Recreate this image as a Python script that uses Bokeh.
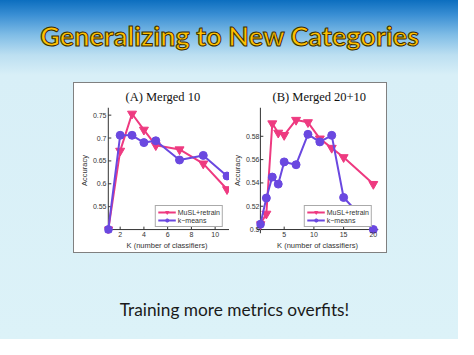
from bokeh.plotting import figure
from bokeh.layouts import column, row
from bokeh.models import Spacer, Range1d, FixedTicker, Legend, LegendItem, Span
from bokeh.core.properties import value
from bokeh.embed import file_html
from bokeh.resources import INLINE

# ---------------- data ----------------
slide_title = "Generalizing to New Categories"
caption = "Training more metrics overfits!"

title_A = "(A) Merged 10"
k_A = [1, 2, 3, 4, 5, 7, 9, 11]
musl_A = [0.500, 0.672, 0.753, 0.718, 0.684, 0.675, 0.644, 0.588]
kmeans_A = [0.500, 0.706, 0.706, 0.690, 0.694, 0.652, 0.662, 0.617]
xticks_A = [2, 4, 6, 8, 10]
yticks_A = [0.55, 0.6, 0.65, 0.7, 0.75]
ylabels_A = ["0.55", "0.6", "0.65", "0.7", "0.75"]

title_B = "(B) Merged 20+10"
k_B = [1, 2, 3, 4, 5, 7, 9, 11, 13, 15, 20]
musl_B = [0.5045, 0.5135, 0.591, 0.583, 0.581, 0.594, 0.592, 0.578, 0.570, 0.562, 0.539]
kmeans_B = [0.5045, 0.527, 0.545, 0.539, 0.558, 0.5556, 0.5817, 0.5752, 0.5808, 0.5275, 0.500]
xticks_B = [5, 10, 15, 20]
yticks_B = [0.5, 0.52, 0.54, 0.56, 0.58]
ylabels_B = ["0.5", "0.52", "0.54", "0.56", "0.58"]

series_names = ["MuSL+retrain", "k\u2212means"]
x_label = "K (number of classifiers)"
y_label = "Accuracy"

PINK = "#EE3A80"
PURPLE = "#6A48E0"
AX = "#333333"
PANEL_H = 169
TOP_B, BOT_B = 24, 16
TICK_PX = 3


def make_plot(title, k, musl, kmeans, xr, yr, x0, y0, xt, yt, ylabels, width, left, right,
              title_offset, ylab_standoff):
    p = figure(width=width, height=PANEL_H, x_range=Range1d(*xr), y_range=Range1d(*yr),
               toolbar_location=None, output_backend="svg",
               min_border_left=left, min_border_right=right,
               min_border_top=TOP_B, min_border_bottom=BOT_B)
    p.title.text = title
    p.title.align = "left"
    p.title.offset = title_offset
    p.title.text_font = "Liberation Serif"
    p.title.text_font_style = "normal"
    p.title.text_font_size = "12.5px"
    p.title.text_color = "#111111"
    p.title.standoff = 7
    p.outline_line_color = None
    p.grid.visible = False
    p.background_fill_color = "white"
    p.border_fill_color = "white"
    for ax in (p.xaxis[0], p.yaxis[0]):
        ax.axis_line_color = None
        ax.major_tick_line_color = None
        ax.minor_tick_line_color = None
        ax.major_tick_in = 0
        ax.major_tick_out = 0
        ax.minor_tick_in = 0
        ax.minor_tick_out = 0
        ax.major_label_text_font = "Liberation Sans"
        ax.major_label_text_font_size = "7px"
        ax.major_label_text_color = AX
        ax.axis_label_text_font = "Liberation Sans"
        ax.axis_label_text_font_size = "7.5px"
        ax.axis_label_text_font_style = "normal"
        ax.axis_label_text_color = AX
        ax.axis_label_standoff = 1
    p.xaxis.major_label_standoff = -2
    p.yaxis.major_label_standoff = ylab_standoff
    p.xaxis.ticker = FixedTicker(ticks=xt)
    p.yaxis.ticker = FixedTicker(ticks=yt)
    p.yaxis.major_label_overrides = {t: s for t, s in zip(yt, ylabels)}
    p.xaxis.axis_label = x_label
    p.yaxis.axis_label = y_label

    # axis lines drawn at the data origin (so the first markers are not clipped)
    p.add_layout(Span(location=x0, dimension="height", line_color=AX, line_width=1, level="underlay"))
    p.add_layout(Span(location=y0, dimension="width", line_color=AX, line_width=1, level="underlay"))
    # inward tick marks
    fw = width - left - right
    fh = PANEL_H - TOP_B - BOT_B
    dx = TICK_PX * (xr[1] - xr[0]) / fw
    dy = TICK_PX * (yr[1] - yr[0]) / fh
    p.segment(x0=xt, y0=[y0] * len(xt), x1=xt, y1=[y0 + dy] * len(xt), line_color=AX, line_width=1)
    p.segment(x0=[x0] * len(yt), y0=yt, x1=[x0 + dx] * len(yt), y1=yt, line_color=AX, line_width=1)

    l1 = p.line(k, musl, line_color=PINK, line_width=2)
    m1 = p.scatter(k, musl, marker="inverted_triangle", size=9, fill_color=PINK, line_color=PINK)
    l2 = p.line(k, kmeans, line_color=PURPLE, line_width=2)
    m2 = p.scatter(k, kmeans, marker="circle", size=8, fill_color=PURPLE, line_color=PURPLE)

    legend = Legend(items=[LegendItem(label=series_names[0], renderers=[l1, m1]),
                           LegendItem(label=series_names[1], renderers=[l2, m2])],
                    location="bottom_right")
    legend.label_text_font = "Liberation Sans"
    legend.label_text_font_size = "7px"
    legend.label_text_color = AX
    legend.label_height = 8
    legend.label_standoff = 2
    legend.glyph_height = 8
    legend.glyph_width = 18
    legend.spacing = 0
    legend.padding = 2
    legend.margin = 6
    legend.border_line_color = "#555555"
    legend.border_line_width = 1
    legend.background_fill_color = "white"
    legend.background_fill_alpha = 1
    p.add_layout(legend)
    return p


pA = make_plot(title_A, k_A, musl_A, kmeans_A, (0.68, 11.21), (0.4914, 0.7667), 1, 0.5,
               xticks_A, yticks_A, ylabels_A, width=155, left=30, right=0,
               title_offset=21, ylab_standoff=-2)
pB = make_plot(title_B, k_B, musl_B, kmeans_B, (0.343, 20.87), (0.4966, 0.6047), 1, 0.5,
               xticks_B, yticks_B, ylabels_B, width=157, left=24, right=8,
               title_offset=16, ylab_standoff=-3)


def deco(height):
    f = figure(width=458, height=height, x_range=Range1d(0, 458), y_range=Range1d(height, 0),
               toolbar_location=None, output_backend="svg", min_border=0)
    f.axis.visible = False
    f.grid.visible = False
    f.outline_line_color = None
    f.background_fill_alpha = 0
    f.border_fill_alpha = 0
    return f


top = deco(83)
top.text(x=[229.5], y=[35], text=[slide_title], text_font=value("Lato"), text_font_style="bold",
         text_font_size="27px", text_color="#FFC000", text_outline_color="#3b2c00",
         text_align="center", text_baseline="middle")

bottom = deco(87)
bottom.text(x=[234], y=[57], text=[caption], text_font=value("Lato"),
            text_font_size="17.3px", text_color="#1a1a1a",
            text_align="center", text_baseline="middle")

panel = row(pA, pB, styles={"background": "white", "outline": "1px solid #808080"})
mid = row(Spacer(width=74, height=PANEL_H), panel, Spacer(width=72, height=PANEL_H))

layout = column(top, mid, bottom, styles={
    "background": "linear-gradient(to bottom, #0c6ebf 0px, #3a8fd4 15px, #80bde6 35px, "
                  "#bcdff1 55px, #d8eff7 75px, #dcf2f8 100%)"})

open("out.html", "w").write(file_html(layout, INLINE))
